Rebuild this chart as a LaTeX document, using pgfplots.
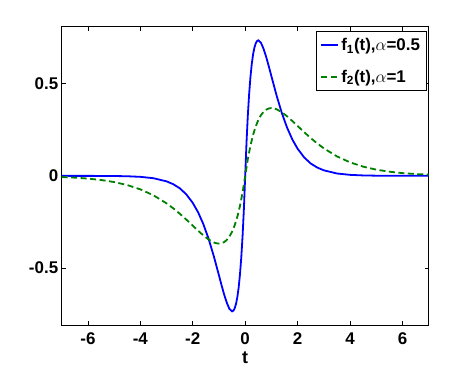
\documentclass[border=0pt]{standalone}
\usepackage{fontspec}
\setmainfont{Liberation Sans}
\usepackage{pgfplots}
\pgfplotsset{compat=1.18}
\definecolor{mblue}{rgb}{0,0,1}
\definecolor{mgreen}{rgb}{0,0.5,0}
\begin{document}
\begin{tikzpicture}
\begin{axis}[
  scale only axis,
  width=367bp, height=298.3bp,
  xmin=-7, xmax=7, ymin=-0.81, ymax=0.81,
  xtick={-6,-4,-2,0,2,4,6},
  ytick={-0.5,0,0.5},
  yticklabels={-0.5,0,0.5},
  xticklabels={-6,-4,-2,0,2,4,6},
  tick align=inside,
  major tick length=4bp,
  axis line style={line width=0.7bp},
  every tick/.style={line width=0.7bp, black},
  /pgf/number format/assume math mode=true,
  tick label style={font=\fontsize{17}{19}\selectfont\bfseries},
  yticklabel style={xshift=0bp},
  xticklabel style={yshift=-4bp},
  xlabel={t},
  xlabel style={font=\fontsize{18}{20}\selectfont\bfseries, yshift=0bp},
  legend style={at={(1,1)}, anchor=north east, xshift=-2.4bp, yshift=-4.3bp,
    font=\fontsize{17}{19}\selectfont\bfseries, draw=black, line width=0.7bp,
    row sep=14bp, inner xsep=4bp, inner ysep=5bp},
  legend cell align=left,
  legend image post style={xscale=1},
]
\addplot[mblue, line width=1.8bp] coordinates {
(-7,0) (-6,-0.0001) (-5,-0.0009) (-4.5,-0.0022) (-4,-0.0054) (-3.5,-0.0128)
(-3,-0.030) (-2.75,-0.045) (-2.5,-0.067) (-2.25,-0.100) (-2,-0.147)
(-1.8,-0.197) (-1.6,-0.261) (-1.4,-0.340) (-1.2,-0.435) (-1,-0.541)
(-0.9,-0.595) (-0.8,-0.646) (-0.7,-0.690) (-0.6,-0.723) (-0.5,-0.736)
(-0.45,-0.732) (-0.4,-0.719) (-0.35,-0.695) (-0.3,-0.659) (-0.25,-0.607)
(-0.2,-0.536) (-0.15,-0.444) (-0.1,-0.327) (-0.05,-0.181) (0,0)
(0.05,0.181) (0.1,0.327) (0.15,0.444) (0.2,0.536) (0.25,0.607)
(0.3,0.659) (0.35,0.695) (0.4,0.719) (0.45,0.732) (0.5,0.736)
(0.6,0.723) (0.7,0.690) (0.8,0.646) (0.9,0.595) (1,0.541)
(1.2,0.435) (1.4,0.340) (1.6,0.261) (1.8,0.197) (2,0.147)
(2.25,0.100) (2.5,0.067) (2.75,0.045) (3,0.030) (3.5,0.0128)
(4,0.0054) (4.5,0.0022) (5,0.0009) (6,0.0001) (7,0)
};
\addlegendentry{f\textsubscript{1}(t),$\alpha$=0.5}
\addplot[mgreen, line width=1.8bp, dash pattern=on 6bp off 3.5bp] coordinates {
(-7,-0.0064) (-6.5,-0.0098) (-6,-0.0149) (-5.5,-0.0225) (-5,-0.0337)
(-4.5,-0.0500) (-4,-0.0733) (-3.5,-0.1057) (-3,-0.1494) (-2.75,-0.1758)
(-2.5,-0.2052) (-2.25,-0.2371) (-2,-0.2707) (-1.8,-0.2975) (-1.6,-0.3230)
(-1.4,-0.3452) (-1.2,-0.3614) (-1.1,-0.3662) (-1,-0.3679) (-0.9,-0.3659)
(-0.8,-0.3595) (-0.7,-0.3476) (-0.6,-0.3293) (-0.5,-0.3033) (-0.4,-0.2681)
(-0.3,-0.2222) (-0.2,-0.1637) (-0.1,-0.0905) (0,0)
(0.1,0.0905) (0.2,0.1637) (0.3,0.2222) (0.4,0.2681) (0.5,0.3033)
(0.6,0.3293) (0.7,0.3476) (0.8,0.3595) (0.9,0.3659) (1,0.3679)
(1.1,0.3662) (1.2,0.3614) (1.4,0.3452) (1.6,0.3230) (1.8,0.2975)
(2,0.2707) (2.25,0.2371) (2.5,0.2052) (2.75,0.1758) (3,0.1494)
(3.5,0.1057) (4,0.0733) (4.5,0.0500) (5,0.0337) (5.5,0.0225)
(6,0.0149) (6.5,0.0098) (7,0.0064)
};
\addlegendentry{f\textsubscript{2}(t),$\alpha$=1}
\end{axis}
\pgfresetboundingbox
\path[use as bounding box] (-61.7bp,-43bp) rectangle (412.3bp,325bp);
\end{tikzpicture}
\end{document}
